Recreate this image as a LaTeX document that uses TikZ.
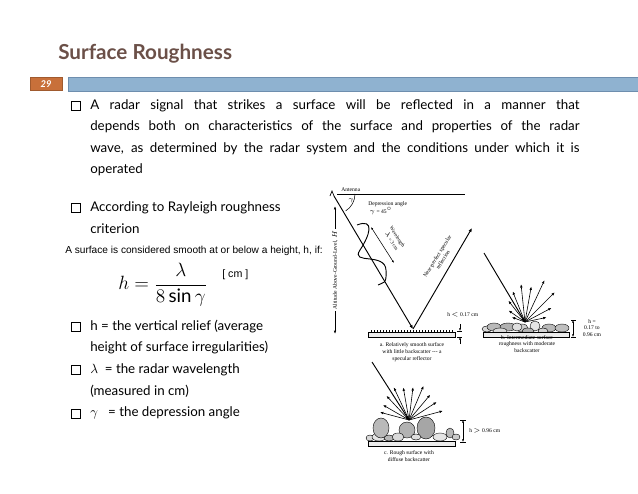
\documentclass[tikz,border=0pt]{standalone}
\usepackage{fontspec}
\setmainfont{Lato}
\newfontfamily\arialf{Liberation Sans}
\newfontfamily\serf{Liberation Serif}
\usetikzlibrary{arrows.meta}
\definecolor{titlec}{HTML}{6B5048}
\definecolor{numc}{HTML}{C8703A}
\definecolor{barc}{HTML}{8FB2D0}
\definecolor{barb}{HTML}{6E8EAE}
\tikzset{
  bul/.style={draw=black,line width=0.5pt,minimum size=7pt,inner sep=0pt},
  btxt/.style={anchor=west,font=\fontsize{10}{16}\selectfont,inner sep=0pt},
  tiny/.style={font=\serf\fontsize{4.2}{5}\selectfont,inner sep=0pt,align=center},
  ray/.style={-{Latex[length=3pt,width=2.5pt]},line width=0.7pt},
  thin ray/.style={-{Latex[length=2.5pt,width=2pt]},line width=0.45pt},
  ground/.style={draw=black,fill=gray!15,line width=0.4pt},
  stone/.style={draw=black,line width=0.3pt}
}
\begin{document}
\begin{tikzpicture}[x=0.75pt,y=-0.75pt]
\useasboundingbox (0,0) rectangle (638,493);
% header
\node[anchor=west,font=\bfseries\fontsize{15.5}{18}\selectfont,text=titlec,inner sep=0pt] (title) at (58,54) {Surface Roughness};
\node[fill=numc,draw=numc!80!black,line width=0.3pt,minimum width=24pt,minimum height=10pt,inner sep=0pt,text=white,font=\bfseries\itshape\fontsize{7}{8}\selectfont] (num) at (46,84) {29};
\fill[barc,draw=barb,line width=0.6pt] (68,77) rectangle (640,91);
% bullets
\node[bul] (b1) at (76,106) {};
\node[anchor=north west,inner sep=0pt,text width=367pt,align=justify,font=\fontsize{10}{16.2}\selectfont] (p1) at (90,99) {A radar signal that strikes a surface will be reflected in a manner that\linebreak depends both on characteristics of the surface and properties of the radar\linebreak wave, as determined by the radar system and the conditions under which it is\linebreak operated};
\node[bul] (b2) at (76,208) {};
\node[btxt] (t2a) at (90,208) {According to Rayleigh roughness};
\node[btxt] (t2b) at (90,229) {criterion};
\node[anchor=west,inner sep=0pt,font=\arialf\fontsize{7.6}{9}\selectfont] (t3) at (65,251) {A surface is considered smooth at or below a height, h, if:};
\node[anchor=west,inner sep=0pt,font=\fontsize{14}{17}\selectfont] (f) at (118,285) {$h=\displaystyle\frac{\lambda}{8\sin\gamma}$};
\node[anchor=west,inner sep=0pt,font=\arialf\fontsize{8}{9}\selectfont] (cm) at (222,275) {[ cm ]};
\node[bul] (b4) at (76,327) {};
\node[btxt] (t4a) at (90,327) {h = the vertical relief (average};
\node[btxt] (t4b) at (90,348) {height of surface irregularities)};
\node[bul] (b5) at (76,370) {};
\node[btxt] (t5a) at (90,370) {$\lambda$\ \ = the radar wavelength};
\node[btxt] (t5b) at (90,391) {(measured in cm)};
\node[bul] (b6) at (76,414) {};
\node[btxt] (t6) at (90,413) {$\gamma$\ \ \ = the depression angle};
% figure a
\coordinate (ant) at (334,196);
\draw[line width=0.5pt] (330,196) -- (332,191) -- (334,196);
\draw[line width=0.6pt] (337,194) -- (465,194);
\node[tiny,anchor=west] (antl) at (341,190) {Antenna};
\draw (355,194) arc[start angle=0,end angle=58,radius=20];
\node[tiny] (g) at (351,201) {$\gamma$};
\node[tiny,align=left,anchor=west] (dep) at (368,208) {Depression angle\\\ $\gamma$ = 45$^\circ$};
\coordinate (pa) at (413,329);
\draw[ray] (ant) -- (pa);
\draw[ray] (pa) -- (472,228);
\draw[line width=0.7pt] (357,225) .. controls (375,218) and (370,235) .. (360,250) .. controls (350,265) and (385,252) .. (386,270) .. controls (387,285) and (383,282) .. (378,285);
\draw[{Latex[length=2pt]}-{Latex[length=2pt]},line width=0.4pt] (371,227) -- (394,263);
\node[tiny,rotate=-58,font=\serf\fontsize{3.8}{4.5}\selectfont] (wl1) at (397,237) {Wavelength};
\node[tiny,rotate=-58,font=\serf\fontsize{3.8}{4.5}\selectfont] (wl2) at (392,241) {$\lambda$ = 3 cm};
\node[tiny,rotate=58] (nps) at (440,258) {Near-perfect specular\\reflection};
\draw[{Latex[length=2.5pt]}-{Latex[length=2.5pt]},line width=0.5pt] (335,206) -- (335,334);
\node[tiny,fill=white,rotate=90,inner sep=1pt] (alt) at (335,270) {Altitude Above-Ground-Level, $H$};
\draw[ground] (368,332) rectangle (455,337);
\foreach \x in {371,374,...,453} \draw[line width=0.3pt] (\x,332) -- (\x,330);
\draw[line width=0.3pt] (457,331) -- (462,331) (457,337) -- (462,337);
\draw[-{Latex[length=2pt]},line width=0.3pt] (460,324) -- (460,331);
\draw[-{Latex[length=2pt]},line width=0.3pt] (460,344) -- (460,337);
\node[tiny,anchor=west] (ha) at (447,315) {h $<$ 0.17 cm};
\node[tiny] (la) at (412,352) {a. Relatively smooth surface\\with little backscatter --- a\\specular reflector};
% figure b
\coordinate (pb) at (525,322);
\draw[ray] (484,253) -- (pb);
\foreach \a/\l in {160/14,145/20,128/27,112/33,96/38,80/36,65/46,45/42,28/30,12/22}
  \draw[thin ray] (pb) -- ++(-\a:\l);
\foreach \x/\y/\rx/\ry/\c in {487/329/5/3/gray!30,494/327/7/4/gray!55,508/327/8/4/gray!60,522/328/6/4/gray!40,535/326/5/5/gray!20,549/328/7/4/gray!55,562/328/7/4/gray!50,500/331/7/3/gray!30,528/331/6/3/gray!60,543/331/5/3/gray!35,517/327/5/4/gray!25}
  \draw[stone,fill=\c] (\x,\y) ellipse[x radius=\rx,y radius=\ry];
\draw[ground] (483,332) rectangle (569,337);
\draw[line width=0.3pt] (571,320) -- (576,320) (571,337) -- (576,337);
\draw[{Latex[length=2pt]}-{Latex[length=2pt]},line width=0.3pt] (573,320) -- (573,337);
\node[tiny] (hb) at (592,328) {h =\\0.17 to\\0.96 cm};
\node[tiny] (lb) at (527,344) {b. Intermediate surface\\roughness with moderate\\backscatter};
% figure c
\coordinate (pc) at (409,420);
\draw[ray] (372,362) -- (pc);
\foreach \a/\l in {165/30,150/30,133/33,115/36,100/33,83/33,67/37,50/33,33/33,15/35}
  \draw[thin ray] (pc) -- ++(-\a:\l);
\foreach \x/\y/\rx/\ry/\c in {370/438/4/3/gray!30,379/437/7/4/gray!20,389/438/5/3/gray!55,381/428/8/10/gray!55,407/430/8/8/gray!60,426/428/9/11/gray!70,398/437/6/4/gray!30,440/437/7/4/gray!20,450/433/4/5/gray!55,456/437/4/3/gray!40,416/437/5/3/gray!25}
  \draw[stone,fill=\c] (\x,\y) ellipse[x radius=\rx,y radius=\ry];
\draw[ground] (368,441) rectangle (455,446);
\draw[line width=0.3pt] (460,420) -- (466,420) (460,442) -- (466,442);
\draw[{Latex[length=2pt]}-{Latex[length=2pt]},line width=0.3pt] (463,420) -- (463,442);
\node[tiny,anchor=west] (hc) at (469,431) {h $>$ 0.96 cm};
\node[tiny] (lc) at (409,456) {c. Rough surface with\\diffuse backscatter};
\end{tikzpicture}
\end{document}
